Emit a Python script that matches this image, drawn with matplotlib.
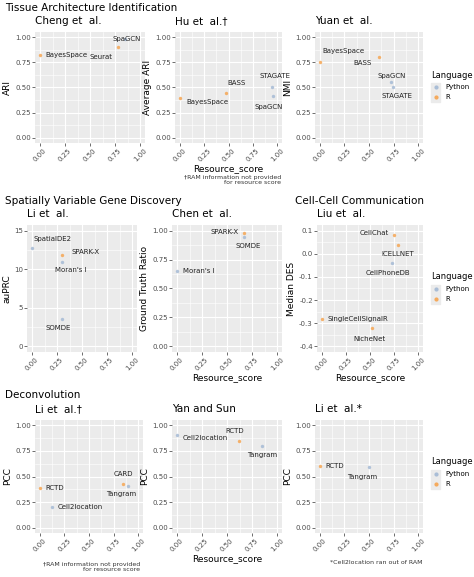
import matplotlib
matplotlib.use("Agg")
import matplotlib.pyplot as plt

PY = "#a9bdd6"
RR = "#f5aa5c"
COL = {"Python": PY, "R": RR}

# data per panel: (method, language, resource_score, metric)
cheng = [("BayesSpace", "R", 0.0, 0.82), ("Seurat", "R", 0.78, 0.90), ("SpaGCN", "Python", 0.85, 0.98)]
hu = [("BayesSpace", "R", 0.0, 0.40), ("BASS", "R", 0.47, 0.45),
      ("STAGATE", "Python", 0.95, 0.50), ("SpaGCN", "Python", 0.96, 0.42)]
yuan = [("BayesSpace", "R", 0.0, 0.75), ("BASS", "R", 0.60, 0.80),
        ("SpaGCN", "Python", 0.72, 0.55), ("STAGATE", "Python", 0.74, 0.50)]
li_svg = [("SpatialDE2", "Python", 0.0, 12.7), ("SPARK-X", "R", 0.30, 11.9),
          ("Moran's I", "Python", 0.30, 11.0), ("SOMDE", "Python", 0.30, 3.5)]
chen = [("SPARK-X", "R", 0.67, 0.98), ("SOMDE", "Python", 0.67, 0.95), ("Moran's I", "Python", 0.0, 0.65)]
liu = [("CellChat", "R", 0.75, 0.08), ("ICELLNET", "R", 0.79, 0.04), ("CellPhoneDB", "Python", 0.73, -0.04),
       ("SingleCellSignalR", "R", 0.0, -0.28), ("NicheNet", "R", 0.52, -0.32)]
li_dec = [("RCTD", "R", 0.0, 0.39), ("Cell2location", "Python", 0.12, 0.20),
          ("CARD", "R", 0.85, 0.43), ("Tangram", "Python", 0.90, 0.41)]
yan = [("Cell2location", "Python", 0.0, 0.90), ("RCTD", "R", 0.62, 0.85), ("Tangram", "Python", 0.85, 0.80)]
li_star = [("RCTD", "R", 0.0, 0.60), ("Tangram", "Python", 0.50, 0.59)]

xticks = [0.0, 0.25, 0.5, 0.75, 1.0]
xticklabels = ["0.00", "0.25", "0.50", "0.75", "1.00"]

W, H = 474, 577
fig = plt.figure(figsize=(W / 100, H / 100), dpi=100)


def make_ax(x0, x1, y0, y1):
    return fig.add_axes([x0 / W, 1 - y1 / H, (x1 - x0) / W, (y1 - y0) / H])


def panel(box, data, title, ylabel, yticks, ylabs, offsets, xlabel=None):
    ax = make_ax(*box)
    ax.set_facecolor("#ebebeb")
    ax.set_axisbelow(True)
    ax.grid(True, color="white", lw=0.8)
    ax.set_xticks([0.125, 0.375, 0.625, 0.875], minor=True)
    ym = [(a + b) / 2 for a, b in zip(yticks[:-1], yticks[1:])]
    ax.set_yticks(ym, minor=True)
    ax.grid(True, which="minor", color="white", lw=0.4)
    for s in ax.spines.values():
        s.set_visible(False)
    for (name, lang, x, y), (dx, dy, ha) in zip(data, offsets):
        ax.scatter(x, y, s=6, color=COL[lang], alpha=0.9, zorder=3, lw=0)
        ax.annotate(name, (x, y), xytext=(dx, dy), textcoords="offset points",
                    fontsize=5, ha=ha, va="center", color="#222222")
    ax.set_xlim(-0.05, 1.05)
    span = yticks[-1] - yticks[0]
    ax.set_ylim(yticks[0] - 0.05 * span, yticks[-1] + 0.05 * span)
    ax.set_xticks(xticks)
    ax.set_xticklabels(xticklabels, rotation=45, fontsize=5, color="#4d4d4d")
    ax.set_yticks(yticks)
    ax.set_yticklabels(ylabs, fontsize=5, color="#4d4d4d")
    ax.tick_params(length=2, width=0.5, color="#333333", pad=1)
    ax.tick_params(which="minor", length=0)
    ax.set_ylabel(ylabel, fontsize=6.5, labelpad=2)
    if xlabel:
        ax.set_xlabel(xlabel, fontsize=6.5, labelpad=1)
    ax.text(0.0, 1.05, title, transform=ax.transAxes, fontsize=7.5, ha="left", va="bottom")
    return ax


def legend(x, y):
    fig.text(x / W, 1 - y / H, "Language", fontsize=6, va="center")
    for i, lang in enumerate(["Python", "R"]):
        yy = y + 12 + i * 10
        fig.patches.append(plt.Rectangle(((x) / W, 1 - (yy + 4.5) / H), 9 / W, 9 / H,
                                         transform=fig.transFigure, color="#ebebeb"))
        fig.add_artist(plt.Line2D([(x + 4.5) / W], [1 - yy / H], marker="o", ms=2,
                                  color=COL[lang], transform=fig.transFigure, ls=""))
        fig.text((x + 14) / W, 1 - yy / H, lang, fontsize=5, va="center")


u = [0, 0.25, 0.5, 0.75, 1.0]
ul = ["0.00", "0.25", "0.50", "0.75", "1.00"]

fig.text(5 / W, 1 - 8 / H, "Tissue Architecture Identification", fontsize=7.5, va="center")
panel((35, 145, 32, 143), cheng, "Cheng et  al.", "ARI", u, ul,
      [(4, 0, "left"), (-4, -7, "right"), (1, 0, "center")])
panel((175, 282, 32, 143), hu, "Hu et  al.\u2020", "Average ARI", u, ul,
      [(5, -3, "left"), (1, 7, "left"), (2, 8, "center"), (-3, -8, "center")], xlabel="Resource_score")
panel((315, 423, 32, 143), yuan, "Yuan et  al.", "NMI", u, ul,
      [(2, 8, "left"), (-5, -4, "right"), (1, 5, "center"), (3, -6, "center")])
fig.text(281 / W, 1 - 180 / H, "\u2020RAM information not provided\nfor resource score",
         fontsize=4.5, ha="right", va="center", color="#333333")
legend(431, 75)

fig.text(5 / W, 1 - 201 / H, "Spatially Variable Gene Discovery", fontsize=7.5, va="center")
fig.text(295 / W, 1 - 201 / H, "Cell-Cell Communication", fontsize=7.5, va="center")
panel((27, 137, 225, 352), li_svg, "Li et  al.", "auPRC", [0, 5, 10, 15], ["0", "5", "10", "15"],
      [(1, 7, "left"), (7, 2, "left"), (-5, -6, "left"), (-3, -6, "center")])
panel((172, 282, 225, 352), chen, "Chen et  al.", "Ground Truth Ratio", u, ul,
      [(-4, 1, "right"), (3, -7, "center"), (4, 0, "left")], xlabel="Resource_score")
panel((317, 423, 225, 352), liu, "Liu et  al.", "Median DES", [-0.4, -0.3, -0.2, -0.1, 0.0, 0.1],
      ["-0.4", "-0.3", "-0.2", "-0.1", "0.0", "0.1"],
      [(-4, 2, "right"), (0, -7, "center"), (-3, -7, "center"), (4, 0, "left"), (-2, -8, "center")],
      xlabel="Resource_score")
legend(431, 277)

fig.text(5 / W, 1 - 395 / H, "Deconvolution", fontsize=7.5, va="center")
panel((35, 143, 420, 533), li_dec, "Li et  al.\u2020", "PCC", u, ul,
      [(4, 0, "left"), (4, 0, "left"), (0, 7, "center"), (-5, -6, "center")])
panel((172, 282, 420, 533), yan, "Yan and Sun", "PCC", u, ul,
      [(4, -2, "left"), (-3, 7, "center"), (0, -7, "center")], xlabel="Resource_score")
panel((315, 423, 420, 533), li_star, "Li et  al.*", "PCC", u, ul,
      [(4, 0, "left"), (-5, -7, "center")])
fig.text(140 / W, 1 - 567 / H, "\u2020RAM information not provided\nfor resource score",
         fontsize=4.5, ha="right", va="center", color="#333333")
fig.text(423 / W, 1 - 563 / H, "*Cell2location ran out of RAM",
         fontsize=4.5, ha="right", va="center", color="#333333")
legend(431, 462)

fig.savefig("out.png", dpi=100)
